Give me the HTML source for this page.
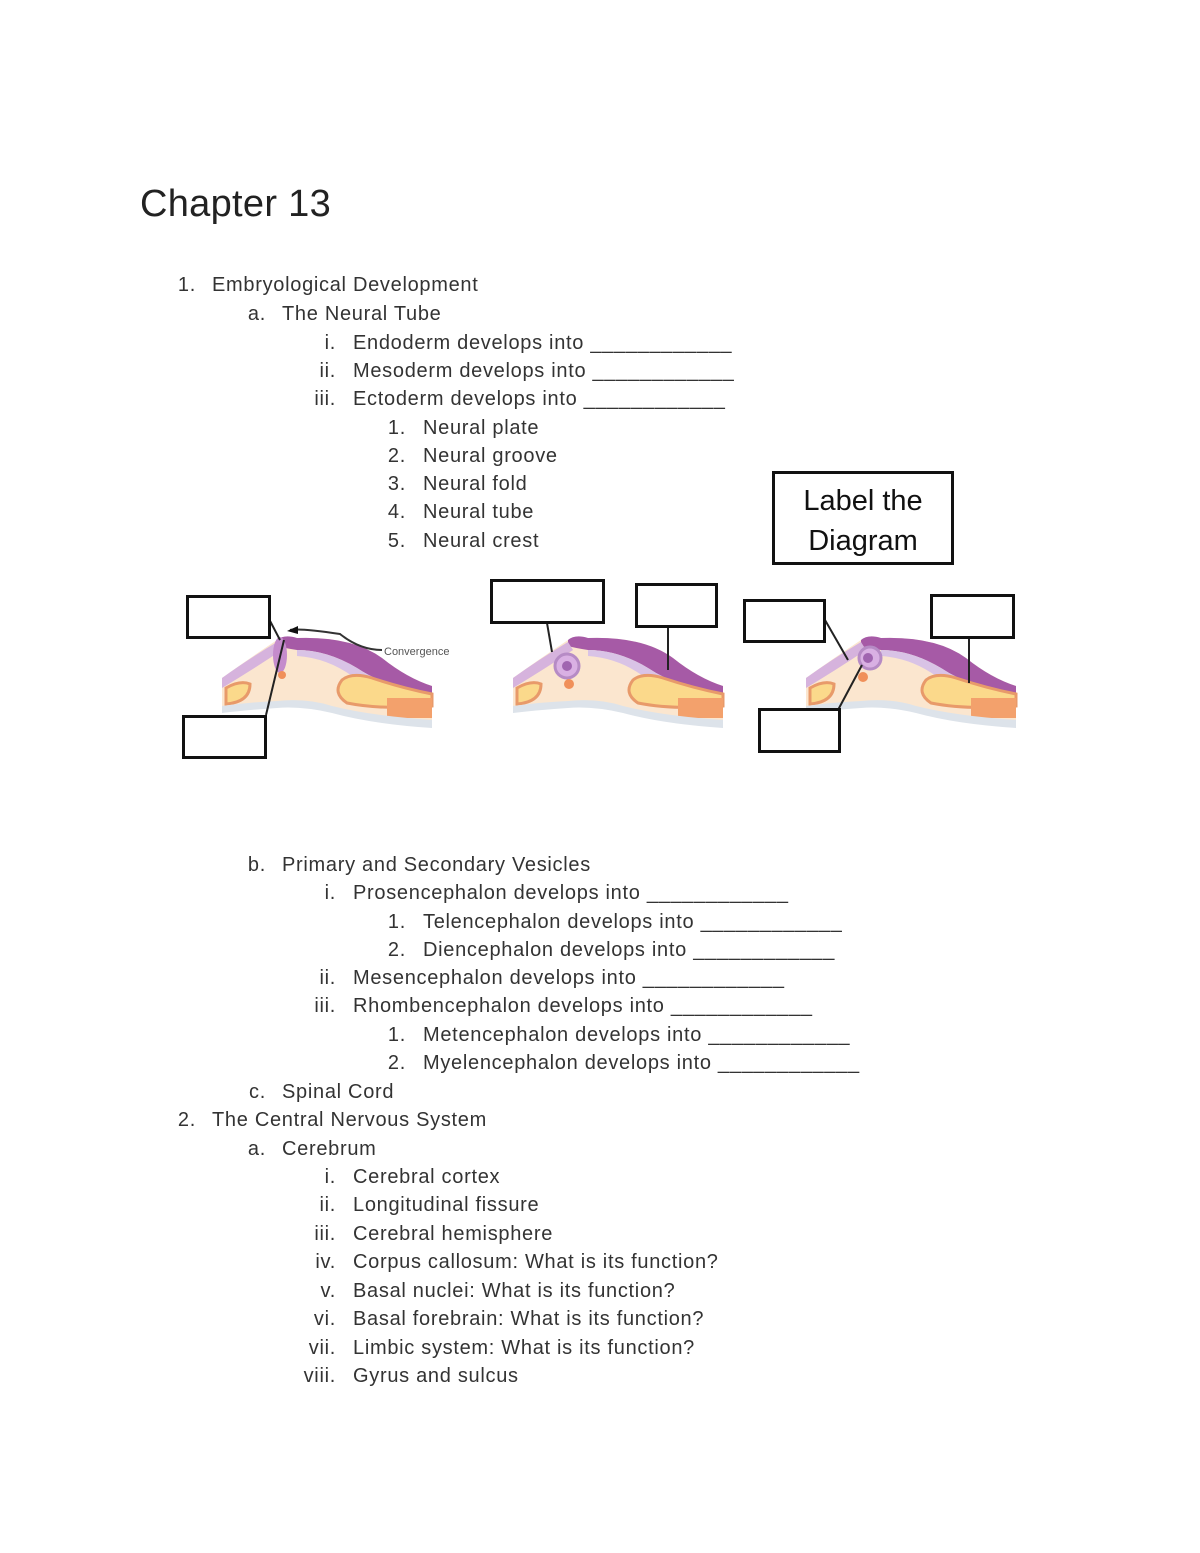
<!DOCTYPE html>
<html><head><meta charset="utf-8"><style>
body{margin:0;background:#fff;}
#p{position:relative;width:1200px;height:1553px;overflow:hidden;font-family:"Liberation Sans",Arial,sans-serif;color:#333;}
.t{position:absolute;font-size:20px;line-height:24px;white-space:nowrap;letter-spacing:0.7px;}
.n{position:absolute;font-size:20px;line-height:24px;text-align:right;white-space:nowrap;letter-spacing:0.7px;}
.b{position:absolute;border:3px solid #111;background:#fff;box-sizing:border-box;}
</style></head><body><div id="p">
<div class="t" style="left:140px;top:182px;font-size:38px;line-height:44px;letter-spacing:0.3px;color:#222">Chapter 13</div>

<div class="n" style="left:160px;width:36px;top:273px">1.</div><div class="t" style="left:212px;top:273px">Embryological Development</div>
<div class="n" style="left:230px;width:36px;top:302px">a.</div><div class="t" style="left:282px;top:302px">The Neural Tube</div>
<div class="n" style="left:296px;width:40px;top:331px">i.</div><div class="t" style="left:353px;top:331px">Endoderm develops into ____________</div>
<div class="n" style="left:296px;width:40px;top:359px">ii.</div><div class="t" style="left:353px;top:359px">Mesoderm develops into ____________</div>
<div class="n" style="left:296px;width:40px;top:387px">iii.</div><div class="t" style="left:353px;top:387px">Ectoderm develops into ____________</div>
<div class="n" style="left:370px;width:36px;top:416px">1.</div><div class="t" style="left:423px;top:416px">Neural plate</div>
<div class="n" style="left:370px;width:36px;top:444px">2.</div><div class="t" style="left:423px;top:444px">Neural groove</div>
<div class="n" style="left:370px;width:36px;top:472px">3.</div><div class="t" style="left:423px;top:472px">Neural fold</div>
<div class="n" style="left:370px;width:36px;top:500px">4.</div><div class="t" style="left:423px;top:500px">Neural tube</div>
<div class="n" style="left:370px;width:36px;top:529px">5.</div><div class="t" style="left:423px;top:529px">Neural crest</div>

<div class="b" style="left:772px;top:471px;width:182px;height:94px;font-size:29px;line-height:40px;text-align:center;padding-top:7px;color:#111;">Label the<br>Diagram</div>

<svg style="position:absolute;left:0;top:0" width="1200" height="800">
<defs>
<g id="emb">
<path d="M0,80 Q25,62 55,42 Q62,38 75,40 Q130,38 160,60 Q185,80 210,88 L210,128 Q150,122 110,110 Q80,102 55,104 Q25,108 0,110 Z" fill="#fbe6cf"/>
<path d="M55,42 Q62,36 75,40 Q130,38 160,60 Q185,80 210,88 L210,96 Q165,90 135,70 Q105,52 75,52 Q62,50 55,48Z" fill="#a65aa6"/>
<path d="M75,52 Q105,52 135,70 Q165,90 210,96 L210,102 Q165,98 130,78 Q105,60 75,58Z" fill="#d9c3e6"/>
<path d="M0,80 Q25,62 55,44 L60,52 Q30,72 0,90Z" fill="#d6b3dd"/>
<path d="M4,90 Q18,82 28,86 Q28,104 4,106Z" fill="#fbd98b" stroke="#e89a6a" stroke-width="3"/>
<path d="M120,82 Q130,74 150,80 Q180,90 210,96 L210,108 Q160,112 125,105 Q110,95 120,82Z" fill="#fbd98b" stroke="#e89a6a" stroke-width="3"/>
<rect x="165" y="100" width="45" height="20" fill="#f3a16c"/>
<path d="M0,108 Q30,104 55,103 Q85,100 110,108 Q150,118 210,122 L210,130 Q150,126 110,115 Q80,108 55,110 Q25,112 0,115Z" fill="#dde3ea"/>
</g>
</defs>
<use href="#emb" x="222" y="598"/>
<use href="#emb" x="513" y="598"/>
<use href="#emb" x="806" y="598"/>
<ellipse cx="280" cy="655" rx="7" ry="18" fill="#c58ccc"/>
<circle cx="282" cy="675" r="4" fill="#f0905a"/>
<circle cx="567" cy="666" r="12" fill="#d9b0e3" stroke="#b68bc5" stroke-width="3"/><circle cx="567" cy="666" r="5" fill="#a065b0"/><circle cx="569" cy="684" r="5" fill="#f0905a"/>
<circle cx="870" cy="658" r="11" fill="#d9b0e3" stroke="#b68bc5" stroke-width="3"/><circle cx="868" cy="658" r="5" fill="#a065b0"/><circle cx="863" cy="677" r="5" fill="#f0905a"/>
<path d="M290,630 Q300,628 340,634 Q360,650 382,650" stroke="#333" stroke-width="2" fill="none"/>
<path d="M287,631 L298,626 L298,634Z" fill="#111"/>
<text x="384" y="655" font-size="11" font-family="Liberation Sans,sans-serif" fill="#555">Convergence</text>
<g stroke="#222" stroke-width="2" fill="none">
<line x1="268" y1="617" x2="280" y2="640"/>
<line x1="284" y1="640" x2="266" y2="715"/>
<line x1="547" y1="623" x2="552" y2="652"/>
<line x1="668" y1="627" x2="668" y2="670"/>
<line x1="825" y1="620" x2="848" y2="660"/>
<line x1="862" y1="665" x2="838" y2="710"/>
<line x1="969" y1="638" x2="969" y2="683"/>
</g>
</svg>
<div class="b" style="left:186px;top:595px;width:85px;height:44px"></div>
<div class="b" style="left:182px;top:715px;width:85px;height:44px"></div>
<div class="b" style="left:490px;top:579px;width:115px;height:45px"></div>
<div class="b" style="left:635px;top:583px;width:83px;height:45px"></div>
<div class="b" style="left:743px;top:599px;width:83px;height:44px"></div>
<div class="b" style="left:930px;top:594px;width:85px;height:45px"></div>
<div class="b" style="left:758px;top:708px;width:83px;height:45px"></div>

<div class="n" style="left:230px;width:36px;top:853px">b.</div><div class="t" style="left:282px;top:853px">Primary and Secondary Vesicles</div>
<div class="n" style="left:296px;width:40px;top:881px">i.</div><div class="t" style="left:353px;top:881px">Prosencephalon develops into ____________</div>
<div class="n" style="left:370px;width:36px;top:910px">1.</div><div class="t" style="left:423px;top:910px">Telencephalon develops into ____________</div>
<div class="n" style="left:370px;width:36px;top:938px">2.</div><div class="t" style="left:423px;top:938px">Diencephalon develops into ____________</div>
<div class="n" style="left:296px;width:40px;top:966px">ii.</div><div class="t" style="left:353px;top:966px">Mesencephalon develops into ____________</div>
<div class="n" style="left:296px;width:40px;top:994px">iii.</div><div class="t" style="left:353px;top:994px">Rhombencephalon develops into ____________</div>
<div class="n" style="left:370px;width:36px;top:1023px">1.</div><div class="t" style="left:423px;top:1023px">Metencephalon develops into ____________</div>
<div class="n" style="left:370px;width:36px;top:1051px">2.</div><div class="t" style="left:423px;top:1051px">Myelencephalon develops into ____________</div>
<div class="n" style="left:230px;width:36px;top:1080px">c.</div><div class="t" style="left:282px;top:1080px">Spinal Cord</div>
<div class="n" style="left:160px;width:36px;top:1108px">2.</div><div class="t" style="left:212px;top:1108px">The Central Nervous System</div>
<div class="n" style="left:230px;width:36px;top:1137px">a.</div><div class="t" style="left:282px;top:1137px">Cerebrum</div>
<div class="n" style="left:296px;width:40px;top:1165px">i.</div><div class="t" style="left:353px;top:1165px">Cerebral cortex</div>
<div class="n" style="left:296px;width:40px;top:1193px">ii.</div><div class="t" style="left:353px;top:1193px">Longitudinal fissure</div>
<div class="n" style="left:296px;width:40px;top:1222px">iii.</div><div class="t" style="left:353px;top:1222px">Cerebral hemisphere</div>
<div class="n" style="left:296px;width:40px;top:1250px">iv.</div><div class="t" style="left:353px;top:1250px">Corpus callosum: What is its function?</div>
<div class="n" style="left:296px;width:40px;top:1279px">v.</div><div class="t" style="left:353px;top:1279px">Basal nuclei: What is its function?</div>
<div class="n" style="left:296px;width:40px;top:1307px">vi.</div><div class="t" style="left:353px;top:1307px">Basal forebrain: What is its function?</div>
<div class="n" style="left:296px;width:40px;top:1336px">vii.</div><div class="t" style="left:353px;top:1336px">Limbic system: What is its function?</div>
<div class="n" style="left:296px;width:40px;top:1364px">viii.</div><div class="t" style="left:353px;top:1364px">Gyrus and sulcus</div>
</div></body></html>
